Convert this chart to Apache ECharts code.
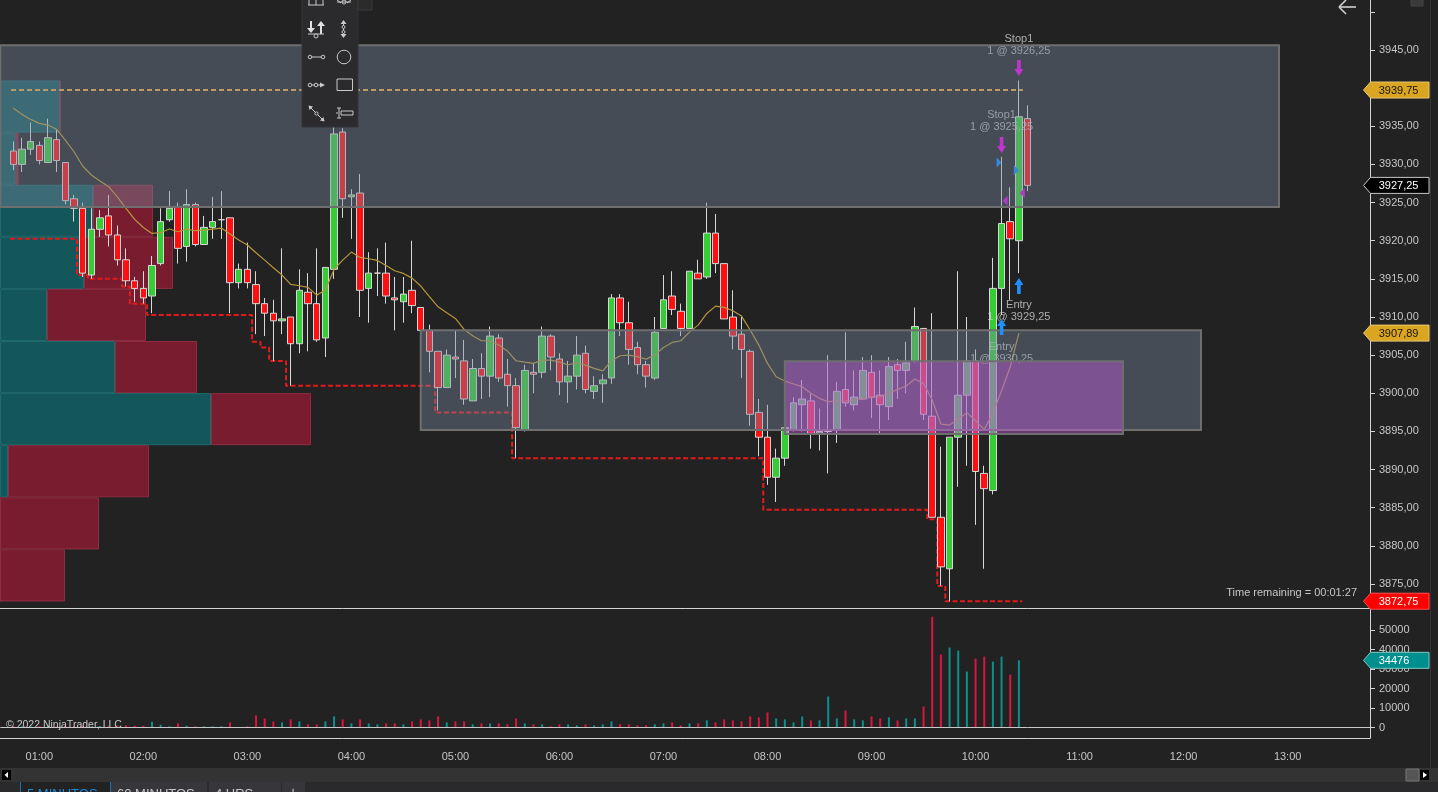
<!DOCTYPE html>
<html><head><meta charset="utf-8">
<style>html,body{margin:0;padding:0;background:#222222;overflow:hidden}#c{width:1438px;height:792px}</style>
<script src="https://cdn.jsdelivr.net/npm/echarts@6/dist/echarts.min.js"></script>
</head><body><div id="c"></div>
<script>
// ---------- data ----------
const tickLabels = ['01:00','02:00','03:00','04:00','05:00','06:00','07:00','08:00','09:00','10:00','11:00','12:00','13:00'];
const opens = [3931.75,3930,3932,3932.5,3930.25,3933.25,3930.25,3925.5,3924.25,3915.5,3921.5,3923.25,3920.75,3917.5,3914.75,3913.75,3912.75,3917,3922.75,3924.5,3919.25,3924.75,3919.5,3921.75,3922.75,3923,3914.5,3916.25,3914.25,3911.75,3910.5,3909.5,3910,3906.5,3913.25,3911.75,3907.25,3916.25,3934.25,3925.75,3926.25,3913.75,3915.75,3915.75,3912.5,3912,3913.5,3911.25,3908.25,3905.5,3900.75,3904.75,3904.25,3899,3903.25,3902.25,3907.25,3902.5,3901,3895.25,3902.75,3902.75,3907.5,3904.5,3901.5,3902.25,3905.25,3900.25,3901.25,3902,3912.5,3909.25,3906,3903.75,3902,3908.5,3912.75,3910.75,3908.5,3915.75,3915.25,3921,3917,3910,3907.75,3905.5,3897.5,3894.25,3889,3891.5,3895.25,3898.5,3899,3894.75,3895,3895.25,3900.5,3898.5,3899.25,3902.75,3899.75,3898.25,3903.75,3903,3904.25,3908.5,3897,3883.75,3877,3894.25,3899.75,3904.25,3889.5,3887.25,3913.75,3922.5,3920,3936];
const closes = [3930,3932,3933,3930.5,3933.5,3930.5,3925.25,3924.25,3915.75,3921.5,3923,3920.75,3917.5,3914.75,3913.75,3912.5,3916.75,3922.5,3924.25,3919,3924.75,3919.5,3921.75,3922.5,3922.75,3914.5,3916.25,3914.5,3911.75,3910.5,3909.5,3909.75,3906.5,3913.5,3911.75,3907,3916.5,3934,3925.5,3926,3913.5,3915.75,3915.75,3912.75,3912.25,3913,3911.5,3908.25,3905.5,3900.75,3905,3904.5,3899.25,3903.25,3902.25,3907.5,3902,3901,3895.5,3903,3902.5,3907.5,3904.75,3901.5,3902.25,3905,3900.5,3901,3901.75,3912.5,3909.25,3905.75,3903.75,3902.25,3908,3912.25,3911,3908.5,3916,3915,3921,3917,3909.75,3907.5,3905.75,3897.25,3894.25,3889,3891.5,3895.5,3898.75,3899.25,3894.75,3895,3895,3900.25,3898.75,3899.5,3903,3899.5,3898.5,3903.5,3903,3904,3908.75,3897.25,3883.75,3877.25,3894.25,3899.75,3904.25,3889.75,3887.5,3913.75,3922.25,3920.25,3936.25,3927.25];
const lows = [3929.25,3929,3931.25,3930,3930.25,3929,3924.75,3922.5,3915.25,3915,3920.5,3919.25,3916.75,3914,3912,3911.75,3910.5,3916.75,3922.5,3917,3917.25,3919.25,3919.5,3920.25,3920.25,3910.5,3913.75,3913.75,3907.75,3907.5,3904.25,3907.75,3901,3905.25,3905.5,3906.75,3904.75,3915,3923,3920.25,3910,3909.25,3912.75,3911.75,3908.25,3909.25,3910.5,3907.75,3902.75,3897.75,3900.75,3902,3898.5,3899,3899.25,3899.5,3901.5,3898.25,3891.5,3895,3900,3902,3903,3899.75,3898.75,3900.5,3900,3899.25,3898.75,3901.25,3907.5,3903.75,3902.5,3900.75,3901.75,3908.5,3910.25,3907.5,3908.5,3915,3915,3915.75,3909.75,3905.75,3902,3895.75,3891.75,3888,3885.75,3890.5,3895,3895,3892.75,3892.5,3889.5,3893.5,3898.25,3897.75,3899.25,3896.75,3894.75,3896.5,3899.25,3900,3904,3896.5,3883.75,3874.75,3872.75,3887.75,3890.5,3882.75,3877,3886.75,3910.25,3912.25,3915.75,3926.5];
const highs = [3933,3933.5,3935.5,3933,3936,3934.5,3930.25,3926,3925,3924.25,3924,3926,3922,3919,3915.25,3916,3918,3924.25,3926.5,3925,3926.75,3925,3923.25,3925.75,3926.5,3923,3917,3919.75,3916,3912.5,3912.25,3919,3910,3916.25,3915.75,3919,3916.5,3937,3934.75,3926.75,3928.75,3918.5,3919,3919.75,3915.25,3915.25,3920,3911.25,3909,3905.5,3905.75,3908.25,3907,3904.5,3905.25,3908.75,3907.75,3904.5,3902,3903.75,3904,3908.75,3907.75,3905.25,3904.25,3907.5,3906.25,3902.25,3902.5,3913,3913,3912,3906.75,3904.25,3910,3915.5,3916,3911.75,3916,3917.5,3925,3923.5,3917,3913.5,3910,3905.75,3899.25,3898.5,3892.75,3895.5,3899.5,3901.75,3900,3898,3905,3901.5,3908,3903,3904.75,3905,3903,3904.75,3904.5,3906.75,3911.25,3908.5,3910.5,3893,3894.25,3916,3910,3905.75,3890.5,3917.75,3931,3927,3941,3937.75];
const averages = [3937.35,3936.56,3935.9,3935.38,3935.16,3934.59,3933.19,3931.66,3929.79,3928.61,3927.82,3927.08,3925.76,3924.24,3922.79,3921.74,3920.96,3921.05,3921.53,3921.18,3921.53,3921.31,3921.39,3921.53,3921.66,3920.87,3920.08,3919.43,3918.42,3917.46,3916.46,3915.5,3914.27,3914.1,3913.88,3912.87,3913.53,3916.24,3917.46,3918.51,3917.81,3917.64,3917.42,3916.76,3916.06,3915.71,3915.1,3914.06,3912.66,3911.34,3910.56,3909.82,3908.37,3907.54,3906.89,3906.89,3906.32,3905.53,3904.27,3904.09,3903.92,3904.35,3904.35,3904.09,3903.74,3904,3903.7,3903.26,3902.95,3904.27,3904.92,3905.01,3904.79,3904.48,3905.01,3906.01,3906.67,3906.89,3908.02,3908.94,3910.47,3911.43,3911.26,3910.82,3910.12,3908.29,3906.32,3903.92,3902.17,3901.61,3901.22,3900.87,3900,3899.34,3898.9,3898.99,3898.99,3899.12,3899.29,3899.47,3899.56,3900,3900.52,3900.96,3901.87,3901.3,3899.12,3895.97,3895.84,3896.59,3897.46,3896.41,3895.27,3897.37,3900.34,3903.49,3907.89];
const volumes = [900,800,700,800,1200,700,1100,900,1200,700,800,900,1000,1200,1000,1000,3060,1530,700,2200,1000,700,700,700,700,2720,340,700,6300,4760,3230,2720,4250,3230,1700,1700,3230,5780,4250,2210,4250,2210,1700,2210,2210,1700,3230,4250,3740,5780,2720,3230,3230,1700,2210,2210,2210,1700,4760,2210,1700,1700,700,1700,1700,1200,1700,1200,1700,3230,1700,1700,1200,1200,1700,2210,2720,1200,2210,2210,3740,2720,4250,3740,3230,5780,5270,7820,4760,4250,2720,5780,3740,3740,15980,4760,8840,4250,3740,5780,4760,5270,3740,4760,4760,10880,56800,37400,41000,39440,28730,35360,36380,33830,36380,27200,34476];
// volume profile, one row per price level from top to bottom
const profileBuy = [600,155,930,840,470,1150,2110,80,0,0];
const profileSell = [0,30,600,890,990,820,1000,1410,990,650];
// trailing stop step line
const stepHours = [0.718,1.3625,1.3625,1.468,1.468,1.795,1.795,1.872,1.872,2.036,2.036,3.045,3.045,3.126,3.126,3.209,3.209,3.372,3.372,4.805,4.805,5.545,5.545,7.959,7.959,9.536,9.536,9.632,9.632,9.709,9.709,10.449];
const stepPrices = [3920.25,3920.25,3915.5,3915.5,3915,3915,3914,3914,3911.75,3911.75,3910.25,3910.25,3906.75,3906.75,3906,3906,3904.25,3904.25,3901,3901,3897.5,3897.5,3891.5,3891.5,3884.75,3884.75,3883.5,3883.5,3874.75,3874.75,3872.75,3872.75];
const levelHours = [0.728,10.455];
const levelPrice = 3939.75;
// zones
const zoneStart = [0.625,4.6667,8.1667];
const zoneEnd = [12.9167,12.1667,11.4167];
const zoneTop = [3945.62,3908.25,3904.2];
const zoneBottom = [3924.42,3895.2,3894.65];
// trade markers
const stopBars = ['10:25','10:15'], stopPrices = [3942.64,3932.54];
const buyBars = ['10:25','10:15'], buyPrices = [3914.06,3908.69];
const fillBlueBars = ['10:15','10:25'], fillBluePrices = [3930.25,3929.25];
const fillPinkBars = ['10:15','10:25'], fillPinkPrices = [3925.25,3926.25];
const noteBars = ['10:25','10:15','10:25','10:15'];
const notePrices = [3945.67,3935.69,3910.77,3905.28];
const noteTexts = ['Stop1\n1 @ 3926,25','Stop1\n1 @ 3925,25','Entry\n1 @ 3929,25','Entry\n1 @ 3930,25'];
// axis tags
const tagPrices = [3939.75,3927.25,3907.89,3872.75];
const tagTexts = ['3939,75','3927,25','3907,89','3872,75'];
const lastVolume = 34476;
const priceTicks = [3875,3880,3885,3890,3895,3900,3905,3910,3915,3920,3925,3930,3935,3940,3945,3950];
const priceLabels = [3875,3880,3885,3890,3895,3900,3905,3910,3915,3920,3925,3930,3935,3945];
const volumeTicks = [0,10000,20000,30000,40000,50000];

// ---------- derived ----------
const categories = [];
for (let m = 40; m < 40 + 158 * 5; m += 5) {
  categories.push(String(Math.floor(m / 60)).padStart(2, '0') + ':' + String(m % 60).padStart(2, '0'));
}
const withGap = a => ['-'].concat(a);
const candleData = withGap(opens.map((o, i) => [o, closes[i], lows[i], highs[i]]));
const isUp = [true].concat(opens.map((o, i) => closes[i] >= o));
const pairs = (xs, ys) => xs.map((x, i) => [x, ys[i]]);

const FONT = '"Liberation Sans", Arial, sans-serif';
const TXT = '#c6c6c6', LINE = '#d4d4d4';
const isTick = (i, v) => tickLabels.includes(v);

function tagItem(fill, textFill, stroke, text, x, y) {
  return {
    type: 'group', children: [
      { type: 'polygon', shape: { points: [[x - 6.5, y], [x + 0.5, y - 8], [x + 59, y - 8], [x + 59, y + 8], [x + 0.5, y + 8]] },
        style: { fill, stroke, lineWidth: 1 } },
      { type: 'text', style: { x: x + 8.7, y: y + 0.5, text, fill: textFill, font: '11px ' + FONT, verticalAlign: 'middle', align: 'left' } }
    ]
  };
}
const tagFill = ['#daa520', '#000000', '#daa520', '#ff0000'];
const tagText = ['#141414', '#ffffff', '#141414', '#ffffff'];
const tagEdge = ['#e6c873', '#c8c8c8', '#e6c873', '#ff5050'];

// ---------- window chrome ----------
const L = (x1, y1, x2, y2, c, w) => ({ type: 'line', z: 101, silent: true, shape: { x1, y1, x2, y2 }, style: { stroke: c || '#c9c9c9', lineWidth: w || 1 } });
const R = (x, y, width, height, fill, stroke, z) => ({ type: 'rect', z: z || 100, silent: true, shape: { x, y, width, height }, style: { fill, stroke: stroke || null, lineWidth: 1 } });
const C = (cx, cy, r, fill) => ({ type: 'circle', z: 101, silent: true, shape: { cx, cy, r }, style: { fill: fill || 'none', stroke: '#c9c9c9', lineWidth: 1 } });
const T = (x, y, text, fill, font, align) => ({ type: 'text', z: 102, silent: true, style: { x, y, text, fill, font, align: align || 'left', verticalAlign: 'middle' } });
const P = (points, fill) => ({ type: 'polygon', z: 101, silent: true, shape: { points }, style: { fill: fill || '#c9c9c9' } });
const chrome = [
  // drawing tools panel
  R(302, -2, 56, 129, '#2b2b2e', '#34343a'),
  R(358, -2, 14, 12, '#2b2b2b', '#3a3a3a'),
  L(309, 0, 309, 5), L(323, 0, 323, 5), L(316, 0, 316, 5), L(308, 5, 324, 5),
  L(337, 2, 351, 2), L(337, 0, 341, 3), L(351, 0, 347, 3), C(344, 2, 2),
  L(311, 21, 311, 31, '#e0e0e0', 2), P([[307, 28], [315, 28], [311, 33]], '#e0e0e0'),
  L(321, 25, 321, 34, '#e0e0e0', 2), P([[317, 26], [325, 26], [321, 21]], '#e0e0e0'), L(308, 34, 324, 34), C(316, 36, 2, '#2b2b2e'),
  L(343.5, 21, 343.5, 37), P([[340.5, 24], [346.5, 24], [343.5, 20]]), P([[340.5, 34], [346.5, 34], [343.5, 38]]), C(343.5, 27, 1.5, '#2b2b2e'), C(343.5, 32, 1.5, '#2b2b2e'),
  L(310, 57, 323, 57), C(310, 57, 1.8, '#2b2b2e'), C(323, 57, 1.8, '#2b2b2e'), C(344, 57, 6.8),
  L(310, 85, 323, 85), C(310, 85, 1.8, '#2b2b2e'), C(316, 85, 1.8, '#2b2b2e'), P([[320, 82.5], [320, 87.5], [325, 85]]),
  R(337, 79, 15.5, 11.5, 'none', '#c9c9c9', 101),
  L(310, 107, 323, 120), P([[308.5, 105.5], [313, 106.5], [309.5, 110]]), P([[324.5, 121.5], [320, 120.5], [323.5, 117]]), C(316.5, 113.5, 1.6, '#2b2b2e'),
  R(341, 111, 12, 4, 'none', '#c9c9c9', 101), L(339, 108, 339, 118), L(337, 108, 341, 108), L(337, 118, 341, 118), L(336, 113, 338, 113),
  // back arrow
  L(1339, 7, 1356, 7, '#d0d0d0', 1.6), L(1339, 7, 1346, 0, '#d0d0d0', 1.6), L(1339, 7, 1346, 14, '#d0d0d0', 1.6),
  R(1411, -2, 12, 8, '#3a3a3a', '#444'),
  // right margin
  L(1430.5, 0, 1430.5, 768, '#353535'),
  // chart texts
  T(1357, 592.7, 'Time remaining = 00:01:27', TXT, '11px ' + FONT, 'right'),
  T(6, 724.7, '© 2022 NinjaTrader, LLC', TXT, '10.5px ' + FONT),
  // scrollbar
  R(0, 768, 1438, 14, '#333333'),
  R(2, 770, 9, 10, '#000000', null, 101), P([[8, 772], [8, 778], [4.5, 775]], '#ffffff'),
  R(1406, 769, 13, 12, '#555555', '#777', 101), R(1420, 770, 9, 10, '#000000', null, 101), P([[1423, 772], [1423, 778], [1427, 775]], '#ffffff'),
  // tabs
  R(0, 782, 1438, 10, '#2a2a2c'),
  R(20.5, 782, 90, 12, '#222222', null, 101),
  L(20.5, 782, 20.5, 792, '#1f6fb2'), L(110.5, 782, 110.5, 792, '#1f6fb2'),
  R(111, 782, 96, 12, '#37373b', null, 101),
  R(209, 782, 72, 12, '#37373b', null, 101),
  R(282, 782, 23, 12, '#37373b', null, 101),
  T(27, 794, '5 MINUTOS', '#1e88d8', '13px ' + FONT),
  T(117, 794, '60 MINUTOS', TXT, '13px ' + FONT),
  T(215, 794, '4 HRS', TXT, '13px ' + FONT),
  T(293, 793, '+', TXT, '14px ' + FONT, 'center')
];

// ---------- chart ----------
const chart = echarts.init(document.getElementById('c'), null, { renderer: 'canvas' });
chart.setOption({
  animation: false,
  backgroundColor: '#222222',
  textStyle: { fontFamily: FONT },
  graphic: { elements: chrome },
  grid: [
    { left: 0.3, top: 0, width: 1369.7, height: 608, containLabel: false },
    { left: 0.3, top: 608, width: 1369.7, height: 130 },
    { left: 0, top: 80.5, width: 1369, height: 521 }
  ],
  xAxis: [
    { type: 'category', gridIndex: 0, data: categories, boundaryGap: true,
      axisLine: { onZero: false, lineStyle: { color: LINE } }, axisTick: { show: false }, axisLabel: { show: false }, splitLine: { show: false } },
    { type: 'value', gridIndex: 0, min: 0.625, max: 13.7917, show: false },
    { type: 'category', gridIndex: 1, data: categories, boundaryGap: true,
      axisLine: { onZero: false, lineStyle: { color: LINE } },
      axisTick: { alignWithLabel: true, length: 5, interval: isTick, lineStyle: { color: LINE } },
      axisLabel: { interval: isTick, color: TXT, fontSize: 11, fontFamily: FONT, margin: 13 }, splitLine: { show: false } },
    { type: 'value', gridIndex: 2, min: 0, max: 13690, show: false }
  ],
  yAxis: [
    { type: 'value', gridIndex: 0, position: 'right', min: 3871.86, max: 3951.55, scale: true,
      axisLine: { show: true, onZero: false, lineStyle: { color: LINE } },
      axisTick: { show: true, length: 5, customValues: priceTicks, lineStyle: { color: LINE } },
      axisLabel: { customValues: priceLabels, color: TXT, fontSize: 11, fontFamily: FONT, margin: 9, padding: [4, 0, 0, 0], formatter: v => v.toFixed(2).replace('.', ',') },
      splitLine: { show: false } },
    { type: 'value', gridIndex: 1, position: 'right', min: -5270, max: 61250,
      axisLine: { show: true, onZero: false, lineStyle: { color: LINE } },
      axisTick: { show: true, length: 5, customValues: volumeTicks, lineStyle: { color: LINE } },
      axisLabel: { customValues: volumeTicks, color: TXT, fontSize: 11, fontFamily: FONT, margin: 9, padding: [4, 0, 0, 0], formatter: v => String(v) },
      splitLine: { show: false } },
    { type: 'category', gridIndex: 2, inverse: true, show: false, data: profileBuy.map((_, i) => i) }
  ],
  series: [
    { name: 'Buy profile', type: 'bar', xAxisIndex: 3, yAxisIndex: 2, stack: 'p', barWidth: '100%', z: 1, silent: true,
      data: profileBuy, itemStyle: { color: '#13575a', borderColor: '#1f6a6d', borderWidth: 1 } },
    { name: 'Sell profile', type: 'bar', xAxisIndex: 3, yAxisIndex: 2, stack: 'p', barWidth: '100%', z: 1, silent: true,
      data: profileSell, itemStyle: { color: '#7a1c2f', borderColor: '#8e2d42', borderWidth: 1 } },
    { name: 'Level', type: 'line', xAxisIndex: 1, yAxisIndex: 0, z: 2, showSymbol: false, silent: true,
      data: levelHours.map(h => [h, levelPrice]), lineStyle: { color: '#e8a840', width: 2, type: [5, 3] } },
    { name: 'Step', type: 'line', xAxisIndex: 1, yAxisIndex: 0, z: 2, showSymbol: false, silent: true,
      data: pairs(stepHours, stepPrices), lineStyle: { color: '#e31a1a', width: 2, type: [5, 2.5] } },
    { name: 'Price', type: 'candlestick', xAxisIndex: 0, yAxisIndex: 0, z: 3, silent: true, barWidth: 7,
      data: candleData,
      itemStyle: { color: '#35cc35', color0: '#ff0f0f', borderColor: '#d8d8d8', borderColor0: '#d8d8d8', borderColorDoji: '#d8d8d8', borderWidth: 1 } },
    { name: 'Average', type: 'line', xAxisIndex: 0, yAxisIndex: 0, z: 4, showSymbol: false, silent: true,
      data: withGap(averages), lineStyle: { color: '#b8963a', width: 1.2 } },
    { name: 'Notes', type: 'scatter', xAxisIndex: 0, yAxisIndex: 0, z: 4, silent: true, symbolSize: 1,
      itemStyle: { color: 'rgba(0,0,0,0)' },
      data: noteBars.map((b, i) => [b, notePrices[i]]),
      label: { show: true, position: 'inside', color: '#d0d0d0', fontSize: 11, fontFamily: FONT, lineHeight: 12,
        formatter: p => noteTexts[p.dataIndex] } },
    { name: 'Zones', type: 'custom', xAxisIndex: 1, yAxisIndex: 0, z: 5, silent: true, clip: true,
      encode: { x: [0, 1], y: [2, 3] },
      data: zoneStart.map((s, i) => [s, zoneEnd[i], zoneTop[i], zoneBottom[i]]),
      renderItem(params, api) {
        const a = api.coord([api.value(0), api.value(2)]);
        const b = api.coord([api.value(1), api.value(3)]);
        const purple = params.dataIndex === 2;
        return { type: 'rect', shape: { x: a[0], y: a[1], width: b[0] - a[0], height: b[1] - a[1] },
          style: { fill: purple ? 'rgba(207,95,232,0.4)' : 'rgba(120,137,158,0.41)', stroke: '#6f6f6f', lineWidth: 2 } };
      } },
    { name: 'Stops', type: 'scatter', xAxisIndex: 0, yAxisIndex: 0, z: 6, silent: true,
      symbol: 'path://M3 0h4v9h3L5 16 0 9h3z', symbolSize: [9, 16], itemStyle: { color: '#c035d0', opacity: 1 },
      data: stopBars.map((b, i) => [b, stopPrices[i]]) },
    { name: 'Buys', type: 'scatter', xAxisIndex: 0, yAxisIndex: 0, z: 6, silent: true,
      symbol: 'path://M3 16h4V7h3L5 0 0 7h3z', symbolSize: [9, 16], itemStyle: { color: '#1e90ff', opacity: 1 },
      data: buyBars.map((b, i) => [b, buyPrices[i]]) },
    { name: 'Blue fills', type: 'scatter', xAxisIndex: 0, yAxisIndex: 0, z: 6, silent: true,
      symbol: 'path://M0 0L10 10L0 20Z', symbolSize: [5, 10], symbolOffset: [-2.5, 0], itemStyle: { color: '#3a86d8', opacity: 1 },
      data: fillBlueBars.map((b, i) => [b, fillBluePrices[i]]) },
    { name: 'Pink fills', type: 'scatter', xAxisIndex: 0, yAxisIndex: 0, z: 6, silent: true,
      symbol: 'path://M10 0L0 10L10 20Z', symbolSize: [5, 10], symbolOffset: [3.5, 0], itemStyle: { color: '#b238c8', opacity: 1 },
      data: fillPinkBars.map((b, i) => [b, fillPinkPrices[i]]) },
    { name: 'Price tags', type: 'custom', xAxisIndex: 0, yAxisIndex: 0, z: 8, silent: true, clip: false,
      encode: { y: 1 },
      data: tagPrices.map(p => [0, p]),
      renderItem(params, api) {
        const y = api.coord([0, api.value(1)])[1];
        const x = params.coordSys.x + params.coordSys.width;
        const i = params.dataIndex;
        return tagItem(tagFill[i], tagText[i], tagEdge[i], tagTexts[i], x, y);
      } },
    { name: 'Volume', type: 'bar', xAxisIndex: 2, yAxisIndex: 1, z: 3, silent: true, barWidth: 2,
      data: withGap(volumes),
      itemStyle: { color: p => isUp[p.dataIndex] ? '#0d8f8f' : '#d8163f' },
      markLine: { silent: true, symbol: 'none', label: { show: false }, animation: false,
        lineStyle: { color: '#c8c8c8', width: 1, type: 'solid' }, data: [{ yAxis: 0 }] } },
    { name: 'Volume tag', type: 'custom', xAxisIndex: 2, yAxisIndex: 1, z: 8, silent: true, clip: false,
      encode: { y: 1 },
      data: [[0, lastVolume]],
      renderItem(params, api) {
        const y = api.coord([0, api.value(1)])[1];
        const x = params.coordSys.x + params.coordSys.width;
        return tagItem('#008f8f', '#ffffff', '#7fc8c8', String(lastVolume), x, y);
      } }
  ]
});
</script></body></html>
